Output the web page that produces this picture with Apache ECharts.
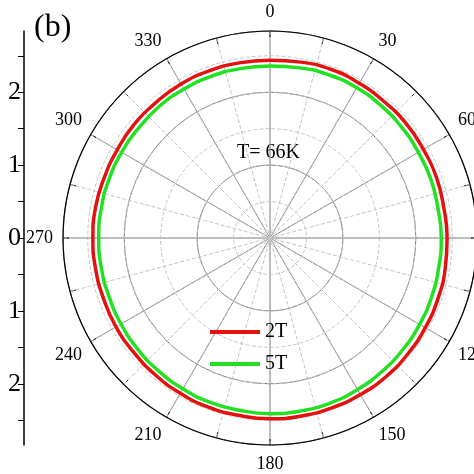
<!DOCTYPE html><html><head><meta charset="utf-8"><script src="https://cdn.jsdelivr.net/npm/echarts@6/dist/echarts.min.js"></script>
<style>html,body{margin:0;background:#fff}#c{width:474px;height:474px}</style></head><body><div id="c"></div><script>
const angles=[0,10,20,30,40,50,60,70,80,90,100,110,120,130,140,150,160,170,180,190,200,210,220,230,240,250,260,270,280,290,300,310,320,330,340,350,360];
const r2T=[2.44,2.45,2.46,2.45,2.44,2.44,2.43,2.43,2.42,2.43,2.44,2.45,2.46,2.47,2.48,2.48,2.48,2.48,2.48,2.47,2.47,2.46,2.45,2.44,2.44,2.43,2.43,2.43,2.43,2.42,2.42,2.43,2.43,2.44,2.44,2.44,2.44];
const r5T=[2.36,2.37,2.38,2.38,2.37,2.36,2.35,2.35,2.34,2.35,2.35,2.36,2.37,2.38,2.39,2.40,2.41,2.41,2.41,2.40,2.40,2.39,2.38,2.37,2.36,2.35,2.35,2.35,2.35,2.35,2.35,2.35,2.36,2.36,2.36,2.36,2.36];
const leftTicks=[2,1,0,-1,-2];
const leftMinor=[2.5,1.5,0.5,-0.5,-1.5,-2.5];
const F='Liberation Serif';
const RMAX=2.84;
const pc=[270,238], pr=207;
const mk=(a,r)=>a.map((v,i)=>[r[i],v]);
echarts.init(document.getElementById('c')).setOption({
 animation:false,
 polar:[{center:pc,radius:pr},{center:pc,radius:pr}],
 angleAxis:[
  {polarIndex:0,type:'value',min:0,max:360,interval:30,startAngle:90,clockwise:true,
   axisLine:{lineStyle:{color:'#000',width:1.2}},axisTick:{show:false},
   axisLabel:{margin:10,color:'#000',fontFamily:F,fontSize:18,formatter:v=>v===360?'':v},
   splitLine:{lineStyle:{color:'#777',width:1}}},
  {polarIndex:1,type:'value',min:0,max:360,interval:15,startAngle:90,clockwise:true,
   axisLine:{show:false},axisTick:{show:true,inside:true,length:6,lineStyle:{color:'#000'}},axisLabel:{show:false},
   splitLine:{lineStyle:{color:'#c4c4c4',type:'dashed',width:1}}}
 ],
 radiusAxis:[
  {polarIndex:0,min:0,max:RMAX,interval:1,axisLine:{show:false},axisTick:{show:false},axisLabel:{show:false},
   splitLine:{lineStyle:{color:'#777'}}},
  {polarIndex:1,min:0,max:RMAX,interval:0.5,axisLine:{show:false},axisTick:{show:false},axisLabel:{show:false},
   splitLine:{lineStyle:{color:'#c4c4c4',type:'dashed'}}}
 ],
 grid:{left:24,top:238-207,height:414,width:1,show:false},
 xAxis:{show:false,type:'value',min:0,max:1},
 yAxis:{type:'value',min:-RMAX,max:RMAX,position:'left',
  axisLine:{show:true,lineStyle:{color:'#000',width:1.5}},
  axisTick:{show:true,length:6,customValues:leftTicks.concat(leftMinor),lineStyle:{color:'#000'}},
  axisLabel:{color:'#000',fontFamily:F,fontSize:26,margin:3,customValues:leftTicks,formatter:v=>String(Math.abs(v))},
  splitLine:{show:false}},
 legend:{left:205,top:317,orient:'vertical',itemWidth:50,itemHeight:4,itemGap:12,icon:'rect',
  textStyle:{fontFamily:F,fontSize:20,color:'#000'},data:['2T','5T']},
 graphic:[
  {type:'text',left:237,top:143,style:{text:'T= 66K',font:'20px "Liberation Serif"',fill:'#000'}},
  {type:'text',left:34,top:12,style:{text:'(b)',font:'32px "Liberation Serif"',fill:'#000'}}
 ],
 series:[
  {name:'2T',type:'line',coordinateSystem:'polar',polarIndex:0,showSymbol:false,smooth:true,data:mk(angles,r2T),lineStyle:{color:'#e51010',width:3.5},itemStyle:{color:'#e51010'}},
  {name:'5T',type:'line',coordinateSystem:'polar',polarIndex:0,showSymbol:false,smooth:true,data:mk(angles,r5T),lineStyle:{color:'#22e022',width:3.5},itemStyle:{color:'#22e022'}}
 ]
});
</script></body></html>
